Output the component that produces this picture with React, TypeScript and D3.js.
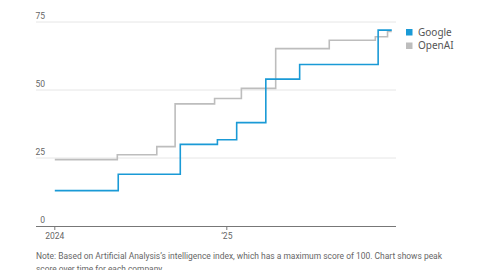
import { useEffect, useRef } from 'react';
import * as d3 from 'd3';

interface Step {
  date: string;
  score: number;
}

// Peak score over time (step changes)
const googleDates = ['2024-01-01', '2024-05-15', '2024-09-24', '2024-12-12', '2025-01-22', '2025-03-25', '2025-06-05', '2025-11-19', '2025-12-18'];
const googleScores = [13, 19, 30, 31.7, 38, 54, 59.4, 72, 72];

const openaiDates = ['2024-01-01', '2024-05-13', '2024-08-05', '2024-09-13', '2024-12-06', '2025-02-01', '2025-04-15', '2025-08-07', '2025-11-13', '2025-12-09', '2025-12-18'];
const openaiScores = [24.4, 26.2, 29.2, 44.9, 46.9, 50.6, 65.2, 68.3, 69.6, 71.5, 71.5];

const yTicks = [0, 25, 50, 75];
const xTicks = ['2024-01-01', '2025-01-01'];
const xTickLabels = ['2024', '\u201825'];

const seriesNames = ['Google', 'OpenAI'];
const seriesColors = ['#1a9ad6', '#bdbdbd'];

const noteLines = [
  'Note: Based on Artificial Analysis\u2019s intelligence index, which has a maximum score of 100. Chart shows peak',
  'score over time for each company.',
];

const toSteps = (dates: string[], scores: number[]): Step[] => dates.map((d, i) => ({ date: d, score: scores[i] }));

export default function App(): JSX.Element {
  const svgRef = useRef<SVGSVGElement>(null);

  useEffect(() => {
    if (svgRef.current) {
      svgRef.current.innerHTML = '';
    }
    const width = 480;
    const height = 270;
    const marginLeft = 36;
    const plotRight = 396;
    const plotTop = 22;
    const plotBottom = 226;
    const font = 'Roboto, "Noto Sans", sans-serif';

    const parse = d3.timeParse('%Y-%m-%d');

    const x = d3.scaleTime([parse('2023-11-22')!, parse('2025-12-27')!], [marginLeft, plotRight]);
    const y = d3.scaleLinear([0, 75], [plotBottom, plotTop]);

    const svg = d3
      .select(svgRef.current)
      .attr('width', width)
      .attr('height', height)
      .attr('viewBox', [0, 0, width, height]);

    svg.append('rect').attr('width', width).attr('height', height).attr('fill', '#fff');

    // clipped title (only descenders are visible)
    svg
      .append('text')
      .attr('x', 36)
      .attr('y', -3)
      .attr('font-family', font)
      .attr('font-size', 13)
      .attr('font-weight', 700)
      .attr('fill', '#333')
      .text('Highest intelligence score of each company\u2019s top-performing AI model');

    // y grid + labels
    const yAxis = svg.append('g');
    yAxis
      .selectAll('line')
      .data(yTicks.filter((t) => t > 0))
      .enter()
      .append('line')
      .attr('x1', marginLeft)
      .attr('x2', plotRight)
      .attr('y1', (d) => y(d))
      .attr('y2', (d) => y(d))
      .attr('stroke', '#e6e6e6')
      .attr('stroke-width', 1);
    yAxis
      .selectAll('text')
      .data(yTicks)
      .enter()
      .append('text')
      .attr('x', 45)
      .attr('y', (d) => y(d) - 3)
      .attr('text-anchor', 'end')
      .attr('font-family', font)
      .attr('font-size', 8.5)
      .attr('fill', '#666')
      .text((d) => d);

    // x axis
    svg
      .append('line')
      .attr('x1', marginLeft)
      .attr('x2', plotRight)
      .attr('y1', plotBottom + 0.5)
      .attr('y2', plotBottom + 0.5)
      .attr('stroke', '#777')
      .attr('stroke-width', 1);
    const xg = svg.append('g');
    xg.selectAll('line')
      .data(xTicks)
      .enter()
      .append('line')
      .attr('x1', (d) => x(parse(d)!))
      .attr('x2', (d) => x(parse(d)!))
      .attr('y1', plotBottom)
      .attr('y2', plotBottom + 4)
      .attr('stroke', '#777');
    xg.selectAll('text')
      .data(xTicks)
      .enter()
      .append('text')
      .attr('x', (d) => x(parse(d)!))
      .attr('y', 239)
      .attr('text-anchor', 'middle')
      .attr('font-family', font)
      .attr('font-size', 8.5)
      .attr('fill', '#666')
      .text((_, i) => xTickLabels[i]);

    // step lines
    const line = d3
      .line<Step>()
      .curve(d3.curveStepAfter)
      .x((d) => x(parse(d.date)!))
      .y((d) => y(d.score));

    const series = [toSteps(openaiDates, openaiScores), toSteps(googleDates, googleScores)];
    const colors = [seriesColors[1], seriesColors[0]];
    series.forEach((s, i) => {
      svg
        .append('path')
        .attr('fill', 'none')
        .attr('stroke', colors[i])
        .attr('stroke-width', 1.6)
        .attr('d', line(s));
    });

    // legend
    const legend = svg.append('g');
    seriesNames.forEach((name, i) => {
      legend
        .append('rect')
        .attr('x', 406)
        .attr('y', 29 + i * 13.5)
        .attr('width', 6.5)
        .attr('height', 6.5)
        .attr('fill', seriesColors[i]);
      legend
        .append('text')
        .attr('x', 418)
        .attr('y', 35.5 + i * 13.5)
        .attr('font-family', '"Noto Sans", sans-serif')
        .attr('font-size', 10)
        .attr('fill', '#555')
        .text(name);
    });

    // note
    svg
      .selectAll('.note')
      .data(noteLines)
      .enter()
      .append('text')
      .attr('class', 'note')
      .attr('x', 36)
      .attr('y', (_, i) => 259 + i * 12.5)
      .attr('font-family', font)
      .attr('font-size', 9)
      .attr('fill', '#666')
      .attr('textLength', (_, i) => (i === 0 ? 406 : 128))
      .attr('lengthAdjust', 'spacingAndGlyphs')
      .text((d) => d);
  }, []);

  return (
    <div style={{ position: 'absolute', left: 0, top: 0 }}>
      <svg ref={svgRef} style={{ display: 'block' }} />
    </div>
  );
}
